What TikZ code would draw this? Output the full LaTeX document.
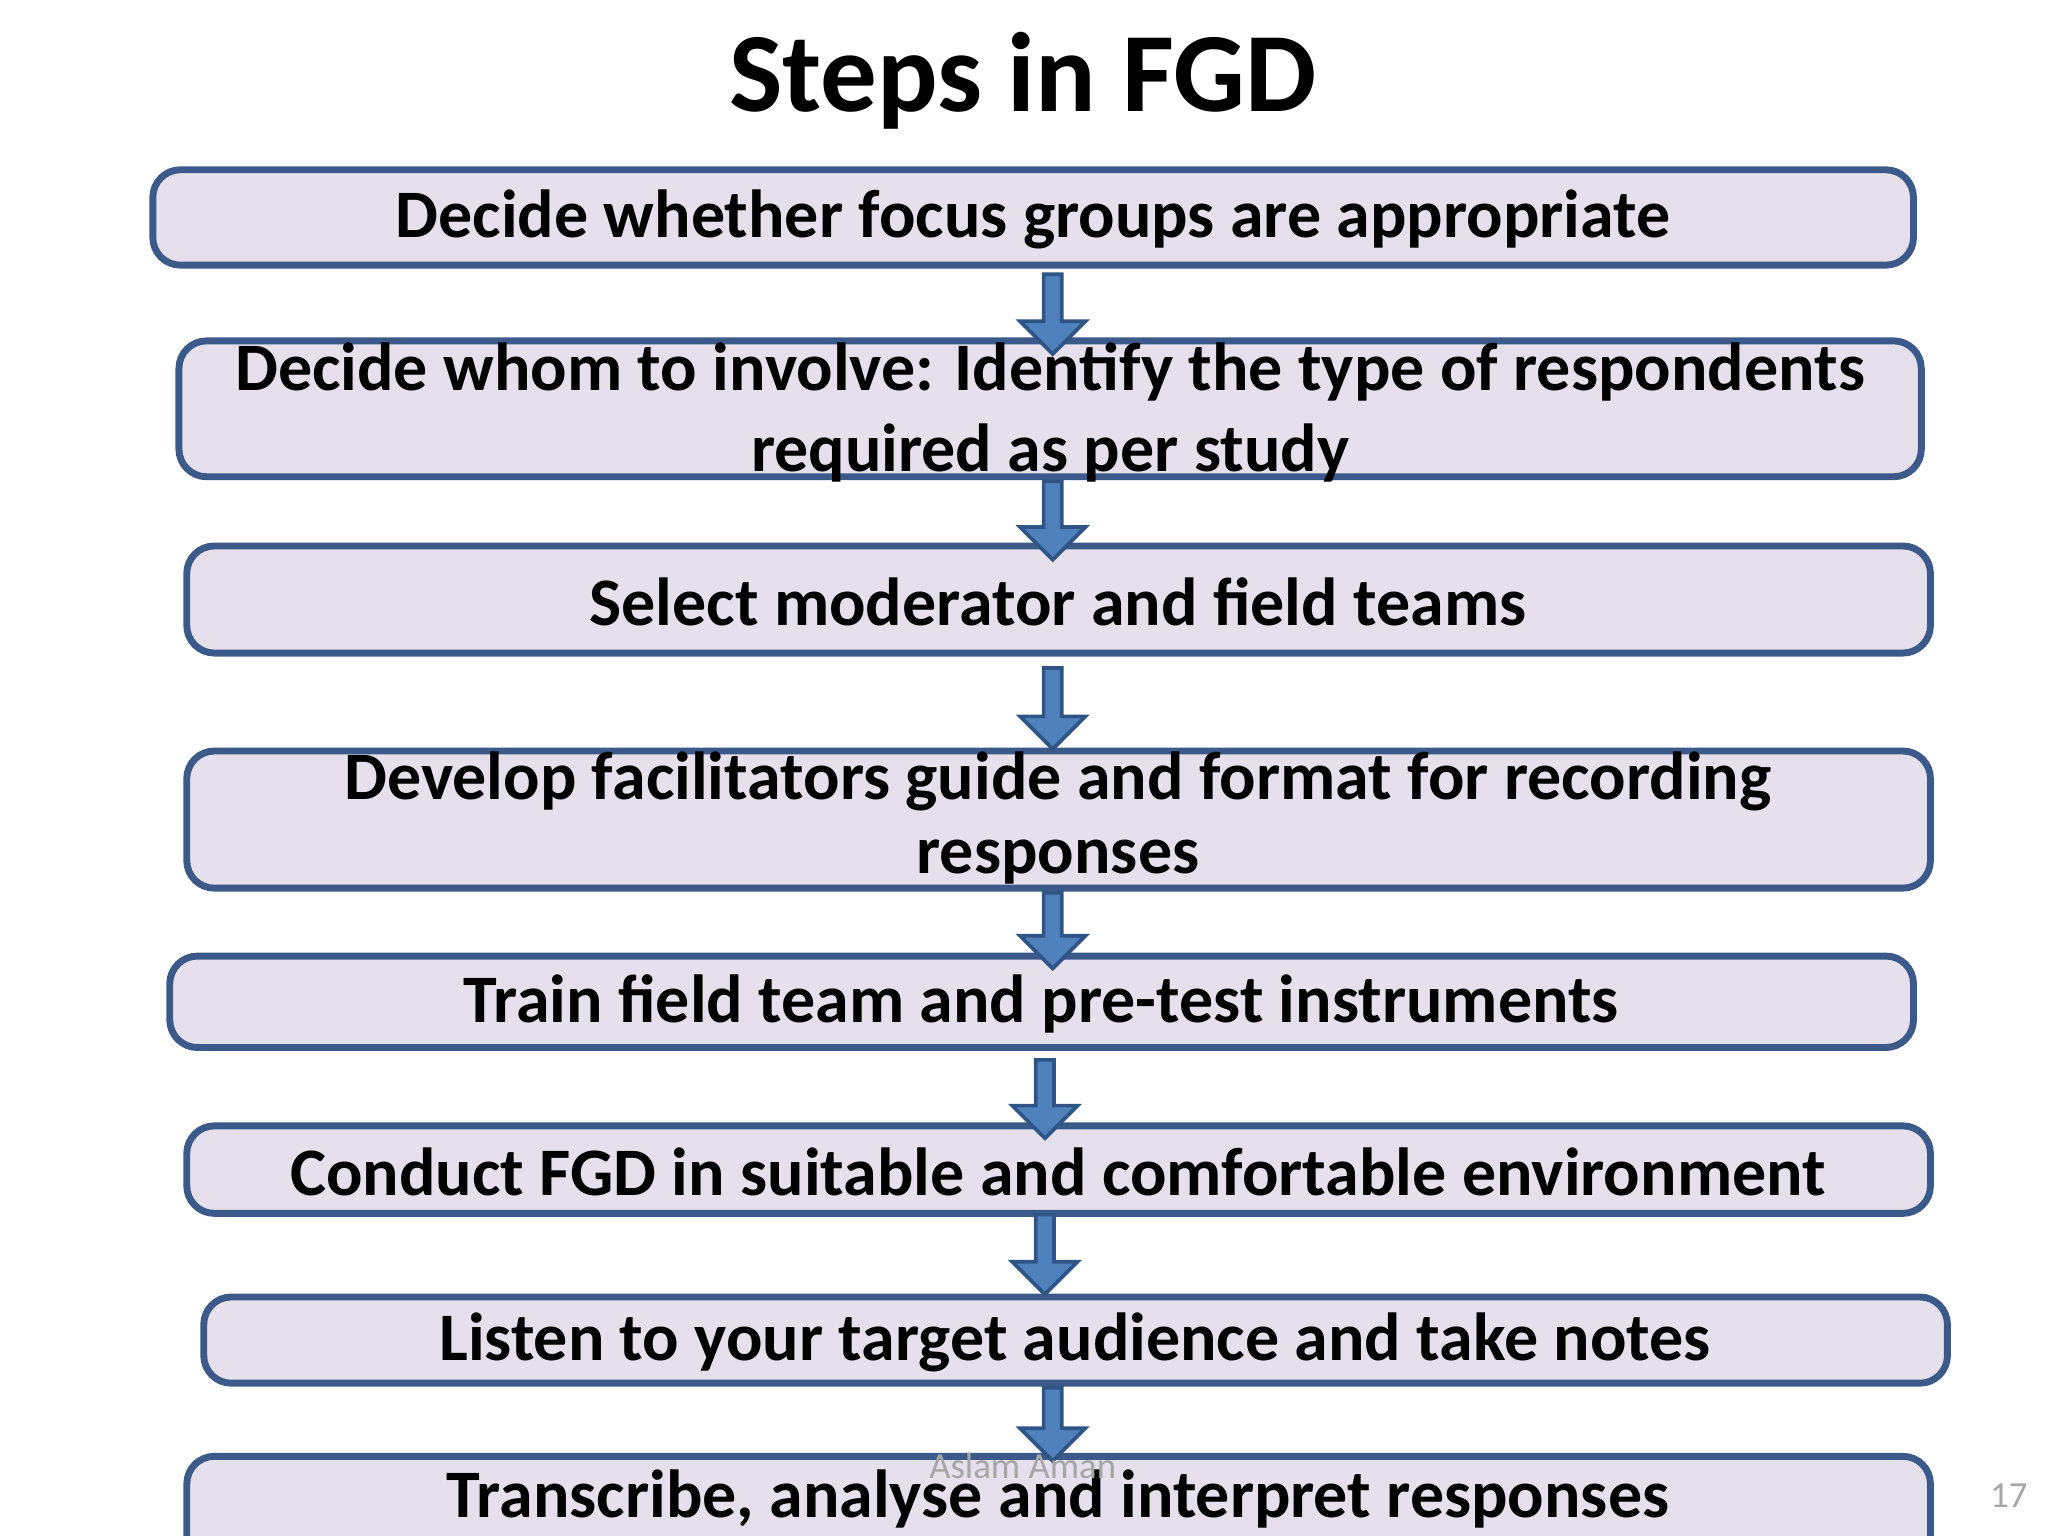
\documentclass[tikz,border=0pt]{standalone}
\usepackage{fontspec}
\setmainfont{Carlito}
\usetikzlibrary{shapes.arrows}
\definecolor{boxfill}{HTML}{E6E0EC}
\definecolor{boxline}{HTML}{3B5A8A}
\definecolor{arrfill}{HTML}{4F81BD}
\definecolor{arrline}{HTML}{2F5587}
\tikzset{
  stepbox/.style={draw=boxline, line width=1.5pt, fill=boxfill, rounded corners=6pt},
  steptext/.style={font=\bfseries\fontsize{14.8}{18}\selectfont, inner sep=0pt, anchor=center},
  downarrow/.style={single arrow, draw=arrline, fill=arrfill, line width=0.8pt, rotate=-90,
    minimum width=0.5cm, single arrow head extend=0.14cm, single arrow head indent=0pt,
    inner sep=0.04cm, minimum height=#1},
}
\begin{document}
\begin{tikzpicture}[x=0.01cm,y=-0.01cm]
\useasboundingbox (0,0) rectangle (1568,1176);
\clip (0,0) rectangle (1568,1176);
\node[font=\bfseries\fontsize{24.6}{28}\selectfont] (title) at (783,62) {Steps in FGD};
\draw[stepbox] (117,130) rectangle (1465,203);
\draw[stepbox] (137,261) rectangle (1471,365);
\draw[stepbox] (143,418) rectangle (1478,500);
\draw[stepbox] (143,575) rectangle (1478,680);
\draw[stepbox] (130,732) rectangle (1465,802);
\draw[stepbox] (143,862) rectangle (1478,929);
\draw[stepbox] (156,993) rectangle (1491,1059);
\draw[stepbox] (143,1115) rectangle (1478,1200);
\node[downarrow=0.61cm] (a1) at (806,237) {};
\node[downarrow=0.60cm] (a2) at (806,395) {};
\node[downarrow=0.62cm] (a3) at (806,539) {};
\node[downarrow=0.58cm] (a4) at (806,709) {};
\node[downarrow=0.60cm] (a5) at (800,838) {};
\node[downarrow=0.61cm] (a6) at (800,957) {};
\node[downarrow=0.56cm] (a7) at (806,1087) {};
\node[steptext] (t1) at (791,168) {Decide whether focus groups are appropriate};
\node[steptext] (t2a) at (804,285) {Decide whom to involve: Identify the type of respondents};
\node[steptext] (t2b) at (804,347) {required as per study};
\node[steptext] (t3) at (810,461) {Select moderator and field teams};
\node[steptext] (t4a) at (810,598) {Develop facilitators guide and format for recording};
\node[steptext] (t4b) at (810,660) {responses};
\node[steptext] (t5) at (797,769) {Train field team and pre-test instruments};
\node[steptext] (t6) at (810,897) {Conduct FGD in suitable and comfortable environment};
\node[steptext] (t7) at (823,1028) {Listen to your target audience and take notes};
\node[steptext] (t8) at (810,1148) {Transcribe, analyse and interpret responses};
\node[text=gray!70, font=\fontsize{8}{9}\selectfont] (foot) at (783,1122) {Aslam Aman};
\node[text=gray!70, font=\fontsize{8}{9}\selectfont] (pg) at (1538,1145) {17};
\end{tikzpicture}
\end{document}
